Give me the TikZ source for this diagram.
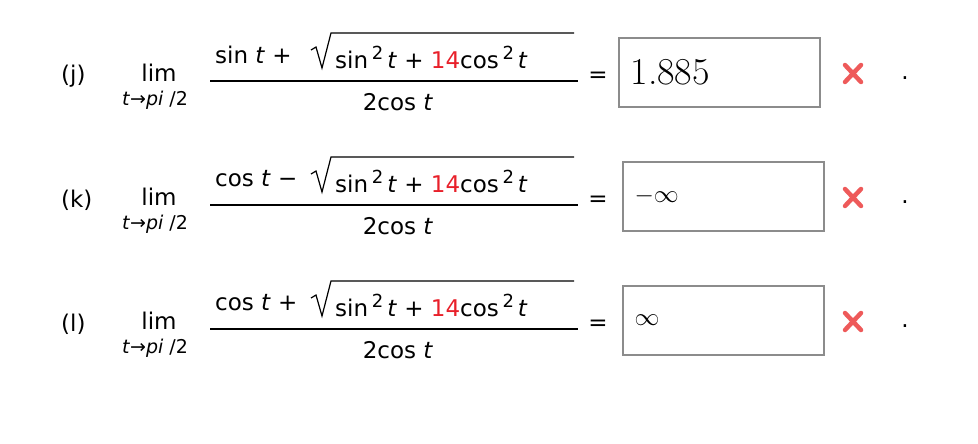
\documentclass[tikz,border=0pt]{standalone}
\usepackage{fontspec}
\setmainfont{DejaVu Sans}
\newfontfamily\lmfont{Latin Modern Roman}
\definecolor{rd}{HTML}{E8202A}
\definecolor{xr}{HTML}{EE5A5A}
\tikzset{
  t/.style={inner sep=0pt,font=\fontsize{23}{25}\selectfont},
  sm/.style={inner sep=0pt,font=\fontsize{19}{21}\selectfont},
  ansbox/.style={draw=gray!90,line width=1.2pt,minimum width=201pt,minimum height=69pt},
  ans/.style={inner sep=0pt,font=\fontsize{38}{40}\lmfont,anchor=west},
  xmark/.style={xr,line width=4.5pt,line cap=round}
}
\newcommand{\sq}{\,\raisebox{9pt}{\fontsize{18}{18}\selectfont 2}\,}
\newcommand{\rowdraw}[6]{%
  \begin{scope}[yshift=-#1pt]
  \node[t,anchor=west] (#6lab) at (61,-76) {#2};
  \node[t] (#6lim) at (159,-73) {lim};
  \node[sm] (#6sub) at (155,-100) {\textit{t}→\textit{pi} /2};
  \node[t,anchor=west] (#6head) at (215,-55) {#3};
  \coordinate (#6r0) at (311,-50);
  \coordinate (#6r1) at (316,-47);
  \coordinate (#6r2) at (322,-68);
  \coordinate (#6r3) at (331,-33);
  \coordinate (#6r4) at (574,-33);
  \draw[line width=1.2pt] (#6r0)--(#6r1)--(#6r2)--(#6r3)--(#6r4);
  \node[t,anchor=west] (#6rad) at (335,-57) {sin\sq\textit{t} + \textcolor{rd}{14}cos\sq\textit{t}};
  \coordinate (#6b0) at (210,-81);
  \coordinate (#6b1) at (578,-81);
  \draw[line width=1.2pt] (#6b0)--(#6b1);
  \node[t] (#6den) at (398,-102) {2cos \textit{t}};
  \node[t] (#6eq) at (598,-77) {=};
  \node[ansbox] (#6box) at (#5,-72.5) {};
  \node[ans] (#6ans) at ([xshift=12pt]#6box.west) {#4};
  \coordinate (#6x0) at (845,-65);
  \coordinate (#6x1) at (861,-82);
  \coordinate (#6x2) at (845,-82);
  \coordinate (#6x3) at (861,-65);
  \draw[xmark] (#6x0)--(#6x1);
  \draw[xmark] (#6x2)--(#6x3);
  \node[t] (#6dot) at (905,-78) {.};
  \end{scope}}
\begin{document}
\begin{tikzpicture}[x=1pt,y=1pt]
\useasboundingbox (0,0) rectangle (978,-444);
\rowdraw{0}{(j)}{sin \textit{t} +}{1.885}{719.5}{j}
\rowdraw{124}{(k)}{cos \textit{t} −}{$-\infty$}{723.5}{k}
\rowdraw{248}{(l)}{cos \textit{t} +}{$\infty$}{723.5}{l}
\end{tikzpicture}
\end{document}
